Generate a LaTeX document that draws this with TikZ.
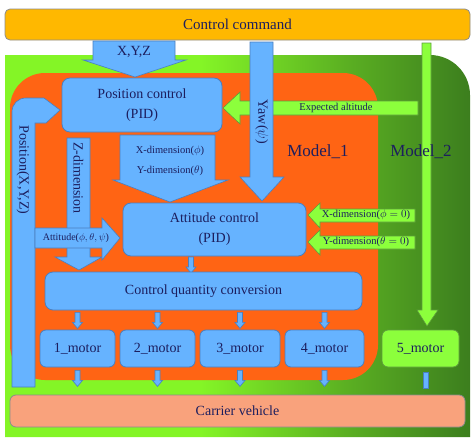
\documentclass[tikz,border=0pt]{standalone}
\usepackage{fontspec}
\setmainfont{Liberation Serif}
\usetikzlibrary{calc}
\definecolor{cmdyellow}{HTML}{FFB800}
\definecolor{cmdedge}{HTML}{8C8C8C}
\definecolor{skyb}{HTML}{66B3FF}
\definecolor{skyedge}{HTML}{4A7FC0}
\definecolor{orangem}{HTML}{FF6414}
\definecolor{limeg}{HTML}{84F526}
\definecolor{limearr}{HTML}{8CFF3C}
\definecolor{limeedge}{HTML}{5E9E3C}
\definecolor{midg}{HTML}{5AAE22}
\definecolor{darkg}{HTML}{3C7E1E}
\definecolor{carrierc}{HTML}{F9A27C}
\definecolor{navy}{HTML}{1C1E5E}
\pgfdeclarehorizontalshading{greenfade}{100bp}{color(0bp)=(limeg); color(46bp)=(limeg); color(62bp)=(midg); color(75bp)=(darkg); color(100bp)=(darkg)}
\tikzset{
  blk/.style={draw=skyedge, fill=skyb, rounded corners=8pt, line width=0.8pt, inner sep=0pt,
    text=navy, font=\fontsize{14}{20}\selectfont, align=center},
  motorblk/.style={blk, rounded corners=6pt, minimum height=37pt},
  bluearr/.style={draw=skyedge, fill=skyb, line width=0.6pt},
  limearrow/.style={draw=limeedge, fill=limearr, line width=0.6pt},
  lbl/.style={text=navy, inner sep=0pt, font=\fontsize{14}{17}\selectfont},
  smalllbl/.style={text=navy, inner sep=0pt, font=\fontsize{10.5}{12}\selectfont},
  tinyarr/.pic={\filldraw[bluearr] (-2.5,0) -- (2.5,0) -- (2.5,10) -- (5,10) -- (0,16) -- (-5,10) -- (-2.5,10) -- cycle;}
}
\begin{document}
\begin{tikzpicture}[x=1pt,y=-1pt]
\useasboundingbox (0,0) rectangle (474,442);
% regions of the two models
\shade[shading=greenfade] (5,437) -- (5,55) -- (430,55) .. controls (452,55) and (470,73) .. (470,95) -- (470,437) -- cycle;
\fill[orangem, rounded corners=35pt] (10,73) rectangle (378,380);
\node[lbl, font=\fontsize{17}{20}\selectfont] (model1) at (318,152) {Model\_1};

% command bar and inputs
\node[blk, draw=cmdedge, fill=cmdyellow, rounded corners=5pt, font=\fontsize{15}{17}\selectfont,
  minimum width=465pt, minimum height=31pt] (cmd) at (237.5,24.5) {Control command};
\filldraw[bluearr] (93,41) -- (175,41) -- (175,60) -- (186,60) -- (135,77) -- (83,60) -- (93,60) -- cycle;
\node[lbl] (xyz) at (134,52) {X,Y,Z};
\filldraw[limearrow] (418,101) -- (240,101) -- (240,92) -- (223,108) -- (240,124) -- (240,115) -- (418,115) -- cycle;
\node[smalllbl] (expalt) at (336,108) {Expected altitude};
\filldraw[bluearr] (250,42) -- (273,42) -- (273,177) -- (284,177) -- (262,201) -- (240,177) -- (250,177) -- cycle;
\node[lbl, rotate=-90] (yaw) at (262,122) {Yaw($\psi$)};
\filldraw[limearrow] (422,43) -- (431,43) -- (431,310) -- (438,310) -- (427,326) -- (417,310) -- (422,310) -- cycle;
\node[lbl, font=\fontsize{17}{20}\selectfont] (model2) at (421,152) {Model\_2};

% position loop
\node[blk, minimum width=160pt, minimum height=54pt] (pos) at (142,105) {Position control\\(PID)};
\filldraw[bluearr] (12,387) -- (12,112) .. controls (12,104) and (18,98) .. (26,98) -- (44,98) -- (60,110)
  -- (46,123) -- (35,123) -- (35,387) -- cycle;
\node[lbl, rotate=-90] (posfb) at (23,170) {Position(X,Y,Z)};
\filldraw[bluearr] (67,138) -- (90,138) -- (90,257) -- (102,257) -- (79,270) -- (55,257) -- (67,257) -- cycle;
\node[lbl, rotate=-90] (zdim) at (78.5,178) {Z-dimension};
\filldraw[bluearr] (120,135) -- (215,135) -- (215,180) -- (228,180) -- (170,202) -- (113,180) -- (120,180) -- cycle;
\node[smalllbl] (xdim) at (170,151) {X-dimension($\phi$)};
\node[smalllbl] (ydim) at (170,171) {Y-dimension($\theta$)};
\filldraw[bluearr] (35,228) -- (102,228) -- (102,218) -- (120,238) -- (102,260) -- (102,248) -- (35,248) -- cycle;
\node[smalllbl, font=\fontsize{10}{12}\selectfont] (attin) at (76,238) {Attitude($\phi,\theta,\psi$)};

% attitude loop
\node[blk, minimum width=183pt, minimum height=53pt] (att) at (214.5,229.5) {Attitude control\\(PID)};
\filldraw[limearrow] (415,209) -- (320,209) -- (320,203) -- (308,215) -- (320,228) -- (320,222) -- (415,222) -- cycle;
\node[smalllbl] (xzero) at (366,215) {X-dimension($\phi=0$)};
\filldraw[limearrow] (415,236) -- (320,236) -- (320,230) -- (308,242) -- (320,255) -- (320,249) -- (415,249) -- cycle;
\node[smalllbl] (yzero) at (366,242) {Y-dimension($\theta=0$)};
\pic at (191,257) {tinyarr};

% conversion and motors
\node[blk, minimum width=317pt, minimum height=38pt] (conv) at (203.5,291) {Control quantity conversion};
\node[motorblk, minimum width=75pt] (m1) at (77.5,348.5) {1\_motor};
\node[motorblk, minimum width=75pt] (m2) at (157.5,348.5) {2\_motor};
\node[motorblk, minimum width=80pt] (m3) at (240,348.5) {3\_motor};
\node[motorblk, minimum width=79pt] (m4) at (324.5,348.5) {4\_motor};
\node[motorblk, draw=limeedge, fill=limearr, minimum width=77pt] (m5) at (420.5,348.5) {5\_motor};
\foreach \m in {m1,m2,m3,m4}{
  \pic at ($(conv.south -| \m.north)+(0,2)$) {tinyarr};
  \pic at ($(\m.south)+(0,3)$) {tinyarr};
}
\filldraw[bluearr] (423,372) rectangle (428,388);

% carrier
\node[blk, draw=cmdedge, fill=carrierc, rounded corners=6pt, minimum width=455pt, minimum height=32pt] (carrier) at (237.5,411) {Carrier vehicle};
\end{tikzpicture}
\end{document}
